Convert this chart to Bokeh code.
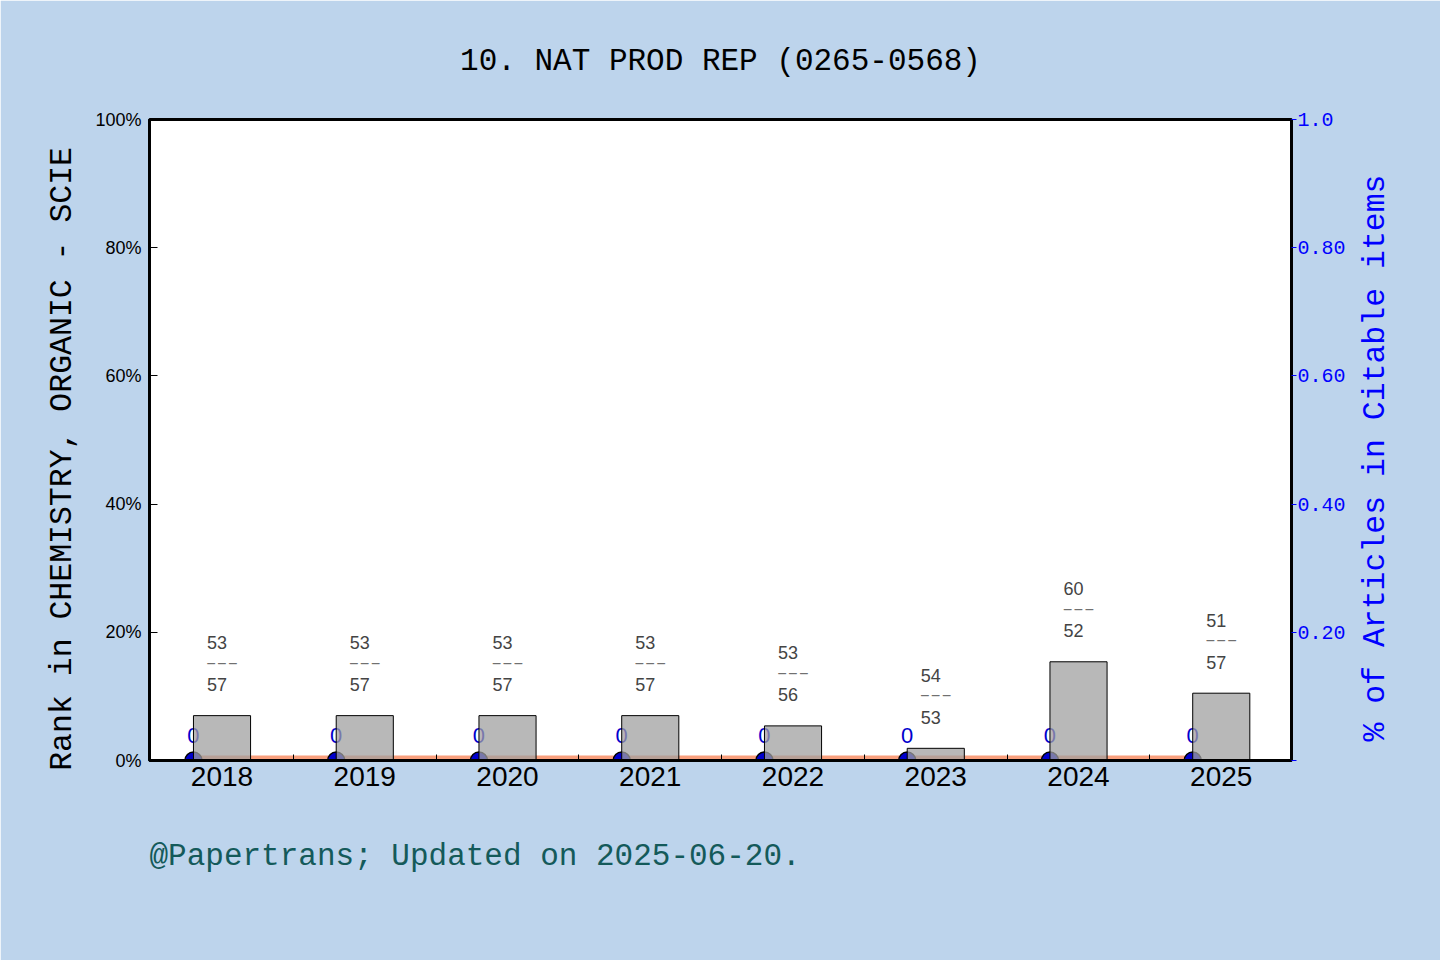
import math
from bokeh.plotting import figure
from bokeh.models import (Range1d, LinearAxis, FixedTicker, NumeralTickFormatter,
                          CustomJSTickFormatter, Title, ColumnDataSource)
from bokeh.transform import dodge
from bokeh.core.properties import value
from bokeh.embed import file_html
from bokeh.resources import INLINE

# ---- data ----
years = ["2018", "2019", "2020", "2021", "2022", "2023", "2024", "2025"]
rank_top = [53, 53, 53, 53, 53, 54, 60, 51]
rank_bottom = [57, 57, 57, 57, 56, 53, 52, 57]
rank_share = [0.070, 0.070, 0.070, 0.070, 0.054, 0.019, 0.154, 0.105]
citable_share = [0, 0, 0, 0, 0, 0, 0, 0]
share_ticks = [0, 0.2, 0.4, 0.6, 0.8, 1.0]

title_text = "10. NAT PROD REP (0265-0568)"
footer_text = "@Papertrans; Updated on 2025-06-20."
left_label = "Rank in CHEMISTRY, ORGANIC - SCIE"
right_label = "% of Articles in Citable items"
rank_separator = "–––"

BG = "#BDD4EC"
MONO = "Liberation Mono"
SANS = "Liberation Sans"
NBSP = "\u00a0"

idx = list(range(len(years)))
src = ColumnDataSource(dict(
    x=idx,
    top=rank_share,
    cit=citable_share,
    rt=[str(v) for v in rank_top],
    rb=[str(v) for v in rank_bottom],
    dash=[rank_separator] * len(years),
    cl=["%g" % v for v in citable_share],
))

p = figure(frame_width=1142, frame_height=641,
           min_border_left=149, min_border_right=149,
           min_border_top=119, min_border_bottom=200,
           x_range=Range1d(-0.508, 7.492), y_range=Range1d(0, 1),
           output_backend="svg", toolbar_location=None, tools="",
           background_fill_color="white", border_fill_color=BG)
p.extra_y_ranges = {"right": Range1d(0, 1)}
p.xgrid.visible = False
p.ygrid.visible = False
p.outline_line_color = "black"
p.outline_line_width = 3

# title
p.title.text = title_text
p.title.align = "center"
p.title.text_font = MONO
p.title.text_font_size = "31px"
p.title.text_font_style = "normal"
p.title.text_color = "black"
p.title.standoff = 82

# x axis
xa = p.xaxis[0]
xa.ticker = FixedTicker(ticks=idx, minor_ticks=[i + 0.5 for i in idx[:-1]])
xa.major_label_overrides = {i: y for i, y in zip(idx, years)}
xa.major_tick_out = 0
xa.major_tick_in = 0
xa.minor_tick_in = 6
xa.minor_tick_out = 0
xa.minor_tick_line_color = "black"
xa.axis_line_width = 3
xa.major_label_standoff = 6
xa.major_label_text_font = SANS
xa.major_label_text_font_size = "28px"
xa.major_label_text_color = "black"

# left axis
ya = p.yaxis[0]
ya.ticker = FixedTicker(ticks=share_ticks, minor_ticks=[])
ya.formatter = NumeralTickFormatter(format="0%")
ya.major_tick_in = 8
ya.major_tick_out = 0
ya.axis_line_width = 3
ya.major_label_standoff = 8
ya.major_label_text_font = SANS
ya.major_label_text_font_size = "18px"
ya.major_label_text_color = "black"
ya.axis_label = left_label + NBSP + NBSP
ya.axis_label_text_font = MONO
ya.axis_label_text_font_size = "31.5px"
ya.axis_label_text_font_style = "normal"
ya.axis_label_text_color = "black"
ya.axis_label_standoff = 12

# right axis
ra = LinearAxis(y_range_name="right",
                ticker=FixedTicker(ticks=share_ticks, minor_ticks=[]),
                formatter=CustomJSTickFormatter(code="""
                    if (Math.abs(tick) < 1e-9) return "";
                    if (Math.abs(tick - 1) < 1e-9) return "1.0";
                    return tick.toFixed(2);
                """))
ra.major_tick_in = 0
ra.major_tick_out = 5
ra.major_tick_line_color = "blue"
ra.axis_line_color = "black"
ra.axis_line_width = 3
ra.major_label_standoff = 1
ra.major_label_text_font = MONO
ra.major_label_text_font_size = "20px"
ra.major_label_text_color = "blue"
ra.axis_label = NBSP + right_label
ra.axis_label_orientation = math.pi / 2
ra.axis_label_align = "start"
ra.axis_label_text_font = MONO
ra.axis_label_text_font_size = "31.5px"
ra.axis_label_text_font_style = "normal"
ra.axis_label_text_color = "blue"
ra.axis_label_standoff = 27
p.add_layout(ra, "right")

# footer
p.add_layout(Title(text=footer_text, align="left", text_font=MONO,
                   text_font_size="31px", text_font_style="normal",
                   text_color="#145A5A", standoff=96), "below")

# citable-items series (right axis)
p.line(x=dodge("x", -0.2), y="cit", source=src, y_range_name="right",
       line_color="#F9A07E", line_width=10)
p.scatter(x=dodge("x", -0.2), y="cit", source=src, y_range_name="right",
          size=17, fill_color="#0000CD", line_color="black", line_width=1.5)
p.text(x=dodge("x", -0.2), y="cit", text="cl", source=src, y_range_name="right",
       y_offset=-25, text_align="center", text_baseline="middle",
       text_font=value(SANS), text_font_size="22px", text_color="#0000CD")

# rank bars (left axis)
p.vbar(x="x", top="top", bottom=0, width=0.4, source=src,
       fill_color="#A0A0A0", fill_alpha=0.75, line_color="black", line_width=1)

p.text(x="x", y="top", text="rb", source=src, x_offset=-5, y_offset=-31,
       text_align="center", text_baseline="middle",
       text_font=value(SANS), text_font_size="18px", text_color="#444444")
p.text(x="x", y="top", text="dash", source=src, x_offset=0, y_offset=-53,
       text_align="center", text_baseline="middle",
       text_font=value(MONO), text_font_size="18px", text_color="#707070")
p.text(x="x", y="top", text="rt", source=src, x_offset=-5, y_offset=-73,
       text_align="center", text_baseline="middle",
       text_font=value(SANS), text_font_size="18px", text_color="#444444")

open("out.html", "w").write(file_html(p, INLINE))
